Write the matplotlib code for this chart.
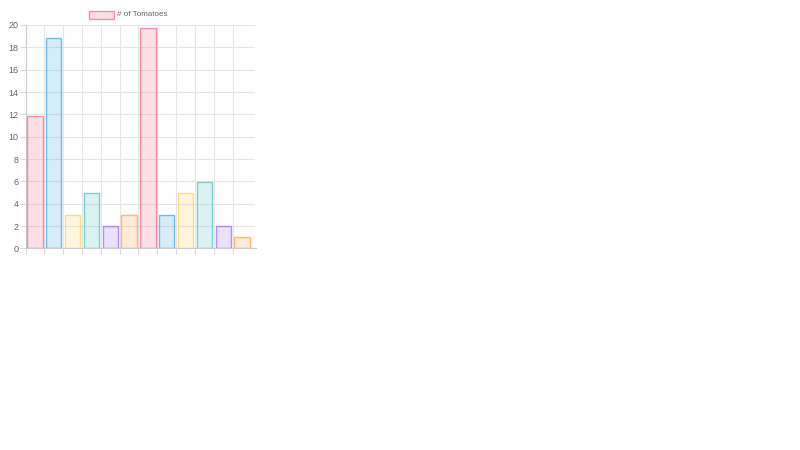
import matplotlib.pyplot as plt
from matplotlib.patches import Rectangle
import numpy as np

plt.rcParams['font.family'] = ['Liberation Sans', 'DejaVu Sans']

labels = ['', '', '', '', '', '', '', '', '', '', '', '']
# the tall bars stop just short of their grid lines
values = [11.85, 18.8, 3, 4.95, 2, 3, 19.75, 3, 4.95, 5.95, 2, 1]
base_colors = [
    (255, 99, 132), (54, 162, 235), (255, 206, 86),
    (75, 192, 192), (153, 102, 255), (255, 159, 64),
    (255, 99, 132), (54, 162, 235), (255, 206, 86),
    (75, 192, 192), (153, 102, 255), (255, 159, 64),
]
legend_label = '# of Tomatoes'

fill = [(r / 255, g / 255, b / 255, 0.2) for r, g, b in base_colors]
edge = [(r / 255, g / 255, b / 255, 0.7) for r, g, b in base_colors]

fig = plt.figure(figsize=(8, 4.5), dpi=100)
W, H = 800, 450
left, right, top, bottom = 25.5, 255.5, 25, 248.5
ax = fig.add_axes([left / W, 1 - bottom / H, (right - left) / W, (bottom - top) / H])

x = np.arange(len(values))
ax.bar(x, values, width=0.81, color=fill, edgecolor=edge, linewidth=1, zorder=3)

# the axis runs a few pixels past the last category
cat_px = 18.83
ax.set_xlim(-0.5, len(values) - 0.5 + 4 / cat_px)
ax.set_ylim(0, 20)
ax.set_yticks(range(0, 21, 2))
ax.tick_params(axis='y', length=4.3, width=0.8, color='#d9d9d9', labelsize=6.5,
               labelcolor='#666666', pad=0.8)
ax.set_xticks(np.arange(len(values)) - 0.5)
ax.set_xticklabels(labels)
ax.tick_params(axis='x', length=4.3, width=0.8, color='#d9d9d9')
ax.grid(True, color='#e6e6e6', linewidth=0.8, zorder=0)

for side in ['top', 'right']:
    ax.spines[side].set_visible(False)
for side in ['left', 'bottom']:
    ax.spines[side].set_color('#cccccc')
    ax.spines[side].set_linewidth(0.8)

# legend drawn like Chart.js: box + label centred above the chart
fig.patches.append(Rectangle((88.5 / W, 1 - 18.7 / H), 25.5 / W, 7.7 / H,
                             transform=fig.transFigure, facecolor=fill[0],
                             edgecolor=edge[0], linewidth=1))
fig.text(117 / W, 1 - 14.5 / H, legend_label, fontsize=5.8, color='#666666',
         va='center', ha='left')

fig.savefig('out.png', dpi=100)
